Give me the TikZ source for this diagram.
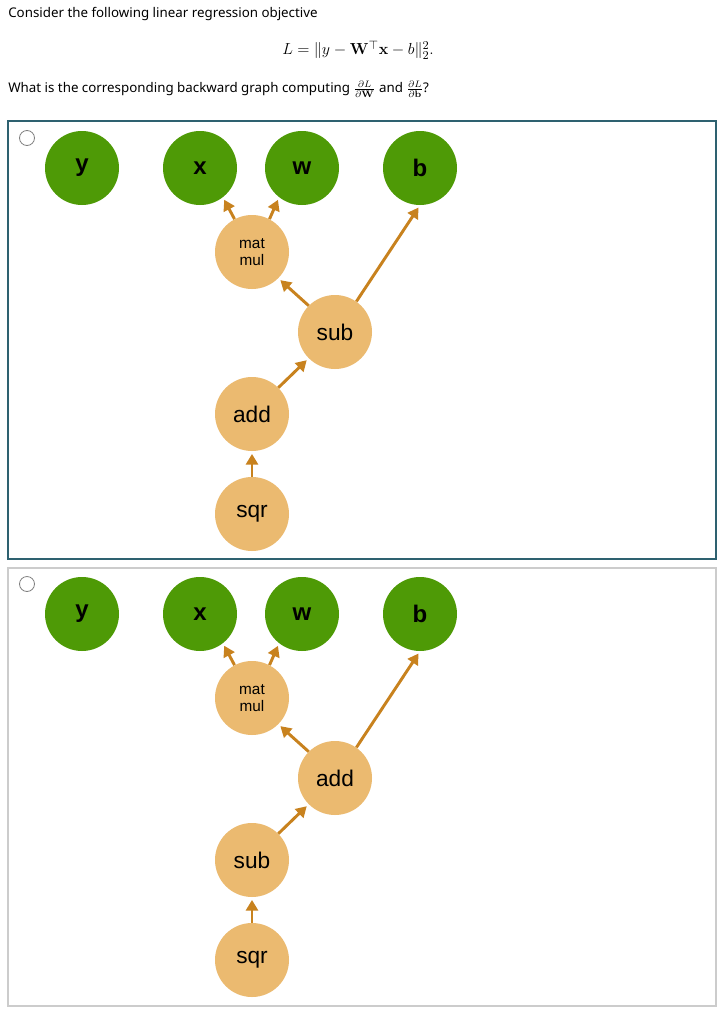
\documentclass[tikz,border=0pt]{standalone}
\usepackage{amsmath}
\usepackage[no-math]{fontspec}
\usetikzlibrary{arrows.meta}
\setmainfont{Liberation Sans}
\newfontfamily\txtfont{Noto Sans}
\definecolor{gn}{HTML}{4E9A06}
\definecolor{og}{HTML}{EBBA70}
\definecolor{ar}{HTML}{C8821E}
\definecolor{tl}{HTML}{2E6170}
\begin{document}
\begin{tikzpicture}[x=0.75pt,y=-0.75pt,
 leaf/.style={circle,fill=gn,minimum size=74*0.75pt,inner sep=0,font=\fontsize{18}{18}\selectfont\bfseries},
 op/.style={circle,fill=og,minimum size=74*0.75pt,inner sep=0,font=\fontsize{17}{17}\selectfont,align=center},
 opsm/.style={op,font=\fontsize{11.5}{13}\selectfont},
 arr/.style={draw=ar,line width=2.2pt,-{Triangle[length=8pt,width=9pt]},shorten >=2pt,shorten <=0pt},
 radio/.style={circle,draw=gray,line width=0.6pt,minimum size=15*0.75pt,inner sep=0,fill=white}]
\useasboundingbox (0,0) rectangle (724,1010);
\fill[white] (0,0) rectangle (724,1010);
\node[anchor=west,font=\txtfont\fontsize{10}{12}\selectfont,inner sep=0] (t1) at (8,14) {Consider the following linear regression objective};
\node[font=\fontsize{12.5}{14}\selectfont] (eq) at (358,50) {$L=\|y-\mathbf{W}^{\top}\mathbf{x}-b\|_2^2.$};
\node[anchor=west,font=\txtfont\fontsize{10}{12}\selectfont,inner sep=0] (t2) at (8,89) {What is the corresponding backward graph computing $\frac{\partial L}{\partial \mathbf{W}}$ and $\frac{\partial L}{\partial \mathbf{b}}$?};
\draw[tl,line width=0.8pt] (8,121) rectangle (716,559);
\draw[gray!40,line width=0.8pt] (8,568) rectangle (716,1006);
\foreach \o/\p/\q/\r in {0/sub/add/a,446/add/sub/b}{
 \node[radio] (rd\r) at (27,138+\o) {};
 \node[leaf] (y\r) at (82,168+\o) {y};
 \node[leaf] (x\r) at (200,168+\o) {x};
 \node[leaf] (w\r) at (302,168+\o) {w};
 \node[leaf] (b\r) at (420,168+\o) {b};
 \node[opsm] (m\r) at (252,252+\o) {mat\\mul};
 \node[op] (p\r) at (335,332+\o) {\p};
 \node[op] (q\r) at (252,414+\o) {\q};
 \node[op] (s\r) at (252,514+\o) {sqr};
 \draw[arr] (m\r.118) -- (x\r.-52);
 \draw[arr] (m\r.62) -- (w\r.-128);
 \draw[arr] (p\r.135) -- (m\r.-45);
 \draw[arr] (p\r.55) -- (b\r.-90);
 \draw[arr] (q\r.45) -- (p\r.-135);
 \draw[arr] (s\r.north) -- (q\r.south);
}
\end{tikzpicture}
\end{document}
